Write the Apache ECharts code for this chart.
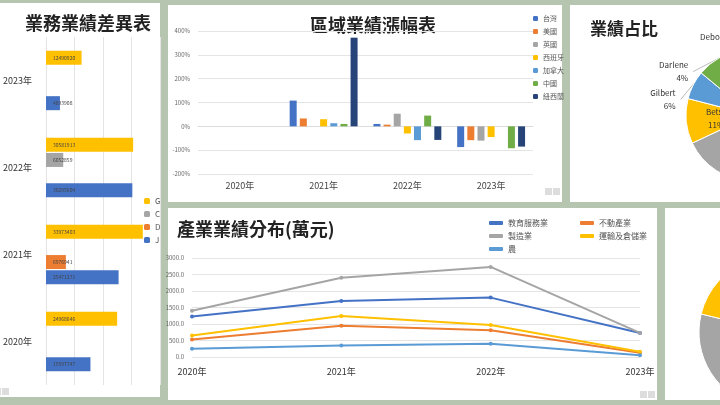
<!DOCTYPE html>
<html lang="zh-Hant">
<head>
<meta charset="UTF-8">
<title>業績儀表板</title>
<script src="https://cdn.jsdelivr.net/npm/echarts@6/dist/echarts.min.js"></script>
<style>
  body { margin: 0; background: #b6c5b0; }
  #main { width: 720px; height: 405px; }
</style>
</head>
<body>
<div id="main"></div>
<script>
// 業務業績差異表
var years = ['2020年', '2021年', '2022年', '2023年'];
var bizJ = [15597747, 25471271, 30295604, 4893908];
var bizD = [null, 6976941, null, null];
var bizC = [null, null, 6052859, null];
var bizG = [24968646, 33973403, 30581913, 12490920];

// 區域業績漲幅表 (%)
var regions = ['台灣', '美國', '英國', '西班牙', '加拿大', '中國', '紐西蘭'];
var growth = [
  [null, 108, 10, -87],
  [null, 33, 7, -58],
  [null, null, 53, -60],
  [null, 30, -30, -45],
  [null, 13, -58, null],
  [null, 10, 45, -92],
  [null, 372, -57, -85]
];

// 業績占比
var people = ['Amanda', 'Carl', 'Helen', 'Betsy', 'Lee', 'Gilbert', 'Darlene', 'Deborah'];
var share = [30, 20, 18, 11, 7, 6, 4, 4];

// 產業業績分布(萬元)
var industries = ['教育服務業', '不動產業', '製造業', '運輸及倉儲業', '農'];
var indEdu = [1230, 1700, 1800, 730];
var indEstate = [530, 950, 810, 130];
var indMfg = [1400, 2400, 2730, 730];
var indTrans = [650, 1240, 970, 160];
var indFarm = [250, 350, 400, 50];

var colors = ['#4472c4', '#ed7d31', '#a5a5a5', '#ffc000', '#5b9bd5', '#70ad47', '#264478', '#9e480e'];
var font = '"Noto Sans CJK TC", "Noto Sans", sans-serif';

function sum(a) { return a.reduce(function (s, v) { return s + v; }, 0); }

var myChart = echarts.init(document.getElementById('main'));

function panel(x, y, w, h) {
  return { type: 'rect', shape: { x: x, y: y, width: w, height: h }, style: { fill: '#fff' }, z: -10 };
}
function btns(x, y) {
  return [
    { type: 'rect', shape: { x: x, y: y, width: 7, height: 7 }, style: { fill: '#ddd' } },
    { type: 'rect', shape: { x: x + 8, y: y, width: 7, height: 7 }, style: { fill: '#ddd' } }
  ];
}

var growthSeries = regions.map(function (r, i) {
  return {
    name: r, type: 'bar', xAxisIndex: 1, yAxisIndex: 1, data: growth[i],
    barWidth: 7, barGap: '45%', itemStyle: { color: colors[i] }
  };
});

var bizLabel = { show: true, position: 'insideLeft', fontSize: 5, color: '#444', offset: [2, 0] };

var lineDefs = [
  ['教育服務業', indEdu, colors[0]],
  ['不動產業', indEstate, colors[1]],
  ['製造業', indMfg, colors[2]],
  ['運輸及倉儲業', indTrans, colors[3]],
  ['農', indFarm, colors[4]]
];
var lineSeries = lineDefs.map(function (d) {
  return {
    name: d[0], type: 'line', xAxisIndex: 2, yAxisIndex: 2, data: d[1],
    symbol: 'circle', symbolSize: 4, lineStyle: { width: 2, color: d[2] }, itemStyle: { color: d[2] }
  };
});

var option = {
  animation: false,
  textStyle: { fontFamily: font },
  graphic: [
    panel(-10, 3, 170, 394), panel(168, 5, 394, 197), panel(570, 5, 160, 197),
    panel(168, 208, 489, 192), panel(665, 208, 70, 192),
    { type: 'text', left: 25, top: 14, style: { text: '業務業績差異表', font: 'bold 18px ' + font, fill: '#222' } },
    { type: 'text', left: 310, top: 16, style: { text: '區域業績漲幅表', font: 'bold 18px ' + font, fill: '#222' } },
    { type: 'text', left: 590, top: 20, style: { text: '業績占比', font: 'bold 17px ' + font, fill: '#222' } },
    { type: 'text', left: 177, top: 220, style: { text: '產業業績分布(萬元)', font: 'bold 18px ' + font, fill: '#222' } }
  ].concat(btns(-6, 388), btns(545, 188), btns(640, 391)),
  legend: [
    { data: ['G', 'C', 'D', 'J'], orient: 'vertical', left: 139, top: 192, itemWidth: 6, itemHeight: 6, itemGap: 5,
      textStyle: { fontSize: 8, color: '#555' } },
    { data: regions, orient: 'vertical', left: 528, top: 10, itemWidth: 5, itemHeight: 5, itemGap: 6,
      textStyle: { fontSize: 7, color: '#555' } },
    { data: ['教育服務業', '製造業', '農'], orient: 'vertical', left: 484, top: 214, itemWidth: 14, itemHeight: 4,
      itemGap: 5, icon: 'roundRect', textStyle: { fontSize: 8, color: '#555' } },
    { data: ['不動產業', '運輸及倉儲業'], orient: 'vertical', left: 575, top: 214, itemWidth: 14, itemHeight: 4,
      itemGap: 5, icon: 'roundRect', textStyle: { fontSize: 8, color: '#555' } }
  ],
  grid: [
    { left: 32, width: 128, top: 37, height: 348 },
    { left: 198, width: 335, top: 31, height: 143 },
    { left: 192, width: 448, top: 258, height: 99 }
  ],
  xAxis: [
    { gridIndex: 0, type: 'value', min: 0, max: 40000000, interval: 10000000,
      axisLabel: { show: false }, splitLine: { lineStyle: { color: '#e4e4e4' } } },
    { gridIndex: 1, type: 'category', data: years, axisTick: { show: false },
      axisLine: { onZero: true, onZeroAxisIndex: 1, lineStyle: { color: '#ddd' } },
      axisLabel: { fontSize: 9, color: '#444', margin: 7 } },
    { gridIndex: 2, type: 'category', data: years, boundaryGap: false, axisTick: { show: false },
      axisLine: { show: false }, axisLabel: { fontSize: 9, color: '#333', margin: 10 } }
  ],
  yAxis: [
    { gridIndex: 0, type: 'category', data: years, axisTick: { show: false }, axisLine: { show: false },
      axisLabel: { fontSize: 9, color: '#333', margin: 14 } },
    { gridIndex: 1, type: 'value', min: -200, max: 400, interval: 100,
      axisLabel: { fontSize: 6, color: '#666', formatter: '{value}%' },
      splitLine: { lineStyle: { color: '#e4e4e4' } } },
    { gridIndex: 2, type: 'value', min: 0, max: 3000, interval: 500,
      axisLabel: { fontSize: 6, color: '#666', formatter: function (v) { return v.toFixed(1); } },
      splitLine: { lineStyle: { color: '#e4e4e4' } } }
  ],
  series: [
    { name: 'G', type: 'bar', data: bizG, barWidth: 14, barGap: '8%', label: bizLabel, itemStyle: { color: colors[3] } },
    { name: 'C', type: 'bar', data: bizC, barWidth: 14, label: bizLabel, itemStyle: { color: colors[2] } },
    { name: 'D', type: 'bar', data: bizD, barWidth: 14, label: bizLabel, itemStyle: { color: colors[1] } },
    { name: 'J', type: 'bar', data: bizJ, barWidth: 14, label: bizLabel, itemStyle: { color: colors[0] } }
  ].concat(growthSeries, lineSeries, [
    {
      type: 'pie', center: [752, 115], radius: 66, startAngle: 90, clockwise: true,
      data: people.map(function (p, i) {
        var small = share[i] < 7;
        return {
          name: p, value: share[i], itemStyle: { color: colors[i] },
          label: { position: small ? 'outside' : 'inside' }
        };
      }),
      itemStyle: { borderColor: '#fff', borderWidth: 1 },
      label: { formatter: '{b}\n{d}%', fontSize: 8, color: '#333', lineHeight: 13 },
      labelLine: { length: 6, length2: 6, lineStyle: { color: '#bbb' } }
    },
    {
      type: 'pie', center: [775, 332], radius: 76, startAngle: 90, clockwise: true,
      data: lineDefs.map(function (d) {
        return { name: d[0], value: sum(d[1]), itemStyle: { color: d[2] } };
      }),
      itemStyle: { borderColor: '#fff', borderWidth: 1 },
      label: { position: 'inside', formatter: '{b}\n{d}%', fontSize: 8, color: '#333', lineHeight: 13 }
    }
  ])
};

myChart.setOption(option);
</script>
</body>
</html>
